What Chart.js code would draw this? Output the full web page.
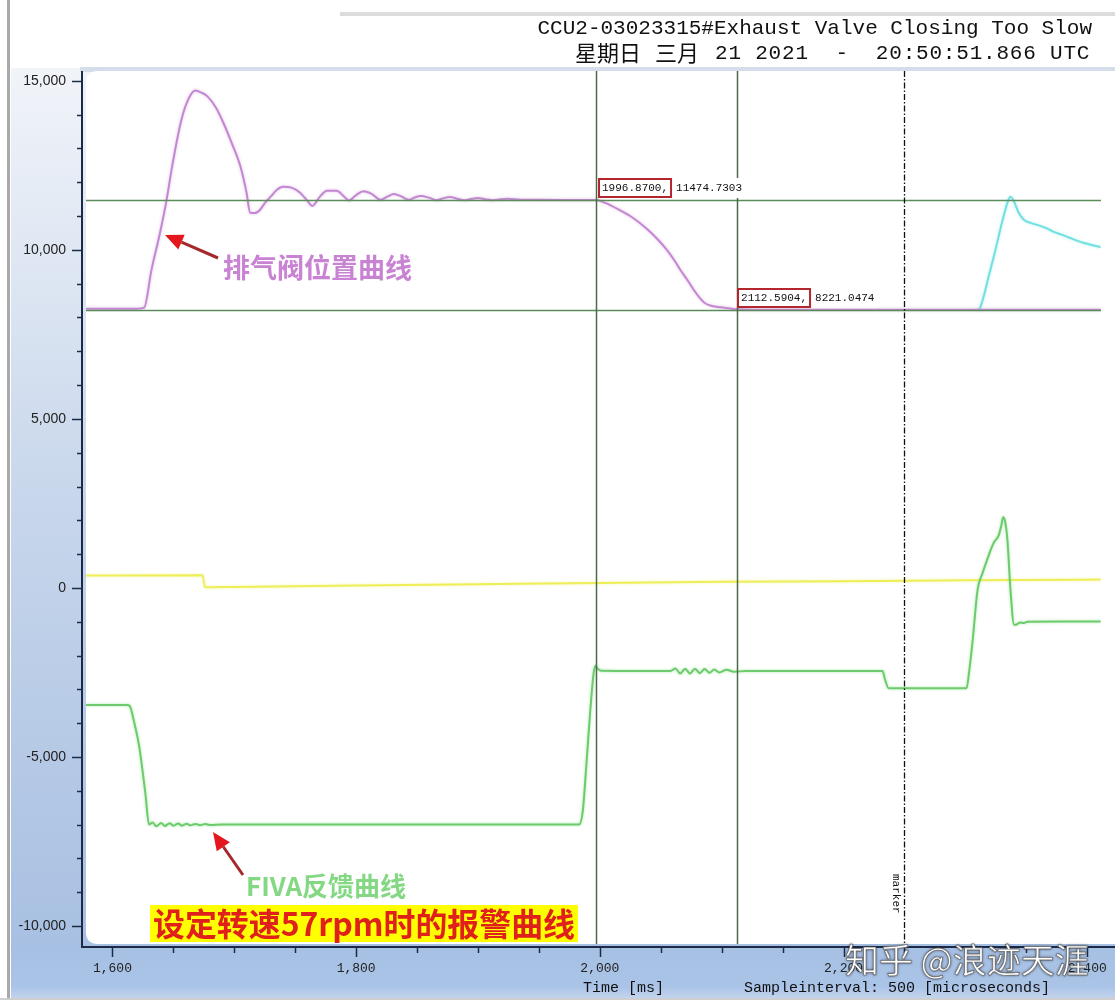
<!DOCTYPE html>
<html><head><meta charset="utf-8">
<script src="https://cdn.jsdelivr.net/npm/chart.js@4/dist/chart.umd.min.js"></script>
<style>html,body{margin:0;padding:0;background:#fff;}canvas{display:block;}</style>
</head><body>
<canvas id="c" width="1115" height="1004"></canvas>
<script>
// ---------- text ----------
const titleLine1 = "CCU2-03023315#Exhaust Valve Closing Too Slow";
const titleLine2Cjk = ["星期日", "三月"];
const titleLine2Rest = "21 2021  -  20:50:51.866 UTC";
const xTitleA = "Time [ms]";
const xTitleB = "Sampleinterval: 500 [microseconds]";
const valveLabel = "排气阀位置曲线";
const fivaLabel = "FIVA反馈曲线";
const alarmLabel = "设定转速57rpm时的报警曲线";
const watermark = "知乎 @浪迹天涯";
const markerLabel = "marker";

// ---------- cursors ----------
const cursorTimes = [1996.87, 2112.5904];
const cursorValues = [11474.7303, 8221.0474];
const cursorTimeText = ["1996.8700,", "2112.5904,"];
const cursorValueText = ["11474.7303", "8221.0474"];
const markerTime = 2250;

// ---------- axis ----------
const xMin = 1578.3, xMax = 2411.3;
const yMin = -10531, yMax = 15290;
const xTickValues = [1600, 1800, 2000, 2200, 2400];
const yTickValues = [-10000, -5000, 0, 5000, 10000, 15000];
const xMinorStep = 50, yMinorStep = 1000;

// ---------- series: exhaust valve position (purple) ----------
const valveT = [1578,1600,1620,1626,1632,1639,1644,1649,1656,1661,1668,1673,1678,1685,1691,1698,1705,1710,1713,1717,1721,1725,1730,1735,1740,1747,1754,1760,1764,1770,1776,1784,1790,1794,1800,1806,1813,1820,1826,1831,1837,1843,1848,1853,1860,1866,1872,1877,1883,1889,1895,1900,1906,1912,1918,1924,1935,1950,1970,1997,2005,2016,2027,2038,2047,2055,2061,2066,2072,2077,2082,2086,2092,2099,2106,2113,2150,2200,2250,2300,2350,2411];
const valveV = [8260,8255,8260,8290,9400,10500,11390,12470,13760,14350,14710,14650,14540,14200,13760,13150,12470,11700,11100,11090,11180,11380,11580,11780,11870,11840,11690,11450,11300,11560,11750,11750,11580,11460,11620,11730,11650,11480,11580,11650,11580,11480,11550,11590,11540,11470,11530,11560,11510,11470,11510,11530,11500,11470,11495,11510,11485,11480,11478,11475,11380,11180,10950,10640,10330,10000,9700,9410,9100,8820,8580,8430,8340,8300,8270,8240,8225,8225,8225,8225,8230,8225];

// ---------- series: second valve trace (cyan) ----------
const cyanT = [2309,2311,2315,2319,2324,2330,2335,2337,2340,2344,2348,2354,2359,2366,2372,2379,2386,2395,2402,2411];
const cyanV = [8220,8230,8620,9200,9900,10800,11450,11570,11420,11080,10890,10790,10740,10650,10540,10450,10350,10230,10160,10080];

// ---------- series: yellow trace ----------
const yellowT = [1578,1674,1676,1700,1800,1900,2000,2100,2200,2300,2411];
const yellowV = [370,375,20,30,70,110,150,180,200,225,250];

// ---------- series: FIVA feedback (green) ----------
const fivaT = [1578,1612,1614,1618,1622,1627,1630,1633,1636,1640,1643,1647,1650,1654,1657,1661,1664,1668,1672,1676,1680,1690,1720,1760,1800,1850,1900,1950,1983,1986,1989,1992,1995,1996.5,1998,2001,2030,2058,2062,2066,2070,2074,2078,2082,2086,2090,2094,2098,2104,2110,2120,2160,2200,2232,2234,2237,2260,2280,2301,2303,2306,2310,2314,2319,2323,2327.5,2329.5,2331,2332.5,2334.5,2337,2340,2342,2345,2348,2351,2380,2411];
const fivaV = [-3460,-3460,-3480,-4000,-4700,-6070,-7000,-6940,-7050,-6950,-7040,-6960,-7030,-6970,-7030,-6975,-7020,-6980,-7015,-6985,-7010,-6995,-7000,-6995,-7000,-6995,-7000,-6995,-7000,-6600,-5200,-3700,-2500,-2300,-2380,-2450,-2455,-2455,-2380,-2530,-2390,-2530,-2390,-2520,-2400,-2510,-2410,-2500,-2420,-2480,-2455,-2460,-2455,-2455,-2700,-2970,-2965,-2970,-2968,-2500,-1540,-60,430,950,1320,1570,1850,2090,1980,1420,-60,-1090,-1080,-1020,-1040,-1000,-995,-995];

const pts = (t, v) => t.map((x, i) => ({x, y: v[i]}));

function arrow(ctx, x1, y1, x2, y2) {
  const ang = Math.atan2(y2 - y1, x2 - x1), hl = 18, hw = 8;
  const bx = x2 - hl * Math.cos(ang), by = y2 - hl * Math.sin(ang);
  ctx.strokeStyle = '#a5282c'; ctx.lineWidth = 3;
  ctx.beginPath(); ctx.moveTo(x1, y1); ctx.lineTo(bx, by); ctx.stroke();
  ctx.fillStyle = '#e3171d'; ctx.beginPath();
  ctx.moveTo(x2, y2);
  ctx.lineTo(bx + hw * Math.sin(ang), by - hw * Math.cos(ang));
  ctx.lineTo(bx - hw * Math.sin(ang), by + hw * Math.cos(ang));
  ctx.closePath(); ctx.fill();
}

const deco = {
  id: 'deco',
  beforeDraw(chart) {
    const ctx = chart.ctx, a = chart.chartArea, W = chart.width;
    ctx.save();
    ctx.fillStyle = '#fff'; ctx.fillRect(0, 0, W, chart.height);
    ctx.fillStyle = '#dcdcdc'; ctx.fillRect(340, 12, W - 340, 4);
    ctx.fillStyle = '#a9a9a9'; ctx.fillRect(7, 0, 3, 1000);
    const g = ctx.createLinearGradient(0, 68, 0, 944);
    g.addColorStop(0, '#f1f4f9'); g.addColorStop(0.5, '#c7d6eb'); g.addColorStop(1, '#a8c0e2');
    ctx.fillStyle = g; ctx.fillRect(11, 68, 90, 885);
    ctx.fillStyle = '#d4dde9'; ctx.fillRect(80, 67, W - 80, 5);
    const g2 = ctx.createLinearGradient(0, 944, 0, 998);
    g2.addColorStop(0, '#a6c0e4'); g2.addColorStop(0.8, '#aac4e8'); g2.addColorStop(1, '#c3d4ec');
    ctx.fillStyle = g2; ctx.fillRect(11, 944, W - 11, 54);
    ctx.fillStyle = '#cfcfcf'; ctx.fillRect(0, 998, W, 2);
    const r = 12, L = a.left, T = a.top, R = W, B = a.bottom;
    ctx.fillStyle = '#fff';
    ctx.beginPath();
    ctx.moveTo(L + r, T); ctx.lineTo(R, T); ctx.lineTo(R, B); ctx.lineTo(L + r, B);
    ctx.quadraticCurveTo(L, B, L, B - r); ctx.lineTo(L, T + r); ctx.quadraticCurveTo(L, T, L + r, T);
    ctx.closePath(); ctx.fill();
    ctx.restore();
  },
  beforeDatasetDraw(chart, args) {
    const ctx = chart.ctx; ctx.save();
    const ds = chart.data.datasets[args.index];
    ctx.shadowColor = ds.glow || 'rgba(0,0,0,0)'; ctx.shadowBlur = 3;
  },
  afterDatasetDraw(chart) { chart.ctx.restore(); },
  afterDatasetsDraw(chart) {
    const ctx = chart.ctx, a = chart.chartArea, xs = chart.scales.x, ys = chart.scales.y, W = chart.width;
    ctx.save();
    ctx.strokeStyle = '#5b8d5b'; ctx.lineWidth = 1.5;
    cursorValues.forEach(v => { const y = Math.round(ys.getPixelForValue(v)) + 0.5; ctx.beginPath(); ctx.moveTo(a.left, y); ctx.lineTo(a.right, y); ctx.stroke(); });
    ctx.strokeStyle = '#4a6a4a';
    cursorTimes.forEach(t => { const x = Math.round(xs.getPixelForValue(t)) + 0.5; ctx.beginPath(); ctx.moveTo(x, a.top); ctx.lineTo(x, a.bottom); ctx.stroke(); });
    const mx = Math.round(xs.getPixelForValue(markerTime)) + 0.5;
    ctx.strokeStyle = '#111'; ctx.lineWidth = 1.3; ctx.setLineDash([6, 2, 1.5, 2]);
    ctx.beginPath(); ctx.moveTo(mx, a.top); ctx.lineTo(mx, a.bottom); ctx.stroke();
    ctx.setLineDash([]);
    ctx.save(); ctx.translate(mx - 9, 874); ctx.rotate(Math.PI / 2);
    ctx.font = '11px "Liberation Mono"'; ctx.fillStyle = '#111'; ctx.textBaseline = 'middle'; ctx.textAlign = 'left';
    ctx.fillText(markerLabel, 0, 0); ctx.restore();
    ctx.font = '11px "Liberation Mono"'; ctx.textBaseline = 'middle'; ctx.textAlign = 'left';
    cursorTimes.forEach((t, i) => {
      const x = xs.getPixelForValue(t), y = ys.getPixelForValue(cursorValues[i]) - 12;
      const w1 = ctx.measureText(cursorTimeText[i]).width, w2 = ctx.measureText(cursorValueText[i]).width;
      const bx = x + (i === 0 ? 3 : 1);
      ctx.fillStyle = '#fff'; ctx.fillRect(bx, y - 10, w1 + w2 + 14, 20);
      ctx.strokeStyle = '#b3262e'; ctx.lineWidth = 2; ctx.strokeRect(bx, y - 9, w1 + 6, 18);
      ctx.fillStyle = '#111'; ctx.fillText(cursorTimeText[i], bx + 3, y);
      ctx.fillText(cursorValueText[i], bx + w1 + 11, y);
    });
    ctx.strokeStyle = '#1c2a48'; ctx.lineWidth = 2;
    ctx.beginPath(); ctx.moveTo(82, a.top); ctx.lineTo(82, a.bottom + 4); ctx.stroke();
    ctx.beginPath(); ctx.moveTo(82, a.bottom + 3); ctx.lineTo(W, a.bottom + 3); ctx.stroke();
    ctx.lineWidth = 1.5;
    for (let v = -10000; v <= 15000; v += yMinorStep) {
      const y = Math.round(ys.getPixelForValue(v)) + 0.5;
      const len = yTickValues.includes(v) ? 10 : 5;
      ctx.beginPath(); ctx.moveTo(82 - len, y); ctx.lineTo(82, y); ctx.stroke();
    }
    for (let t = 1600; t <= 2400; t += xMinorStep) {
      const x = Math.round(xs.getPixelForValue(t)) + 0.5;
      const len = xTickValues.includes(t) ? 10 : 6;
      ctx.beginPath(); ctx.moveTo(x, a.bottom + 3); ctx.lineTo(x, a.bottom + 3 + len); ctx.stroke();
    }
    ctx.fillStyle = '#111'; ctx.font = '15px "Liberation Mono"'; ctx.textBaseline = 'middle';
    ctx.textAlign = 'left'; ctx.fillText(xTitleA, 583, 988);
    ctx.textAlign = 'right'; ctx.fillText(xTitleB, 1050, 988);
    ctx.font = '21px "Liberation Mono"'; ctx.textAlign = 'right'; ctx.fillStyle = '#111';
    ctx.fillText(titleLine1, 1092, 28);
    ctx.letterSpacing = '0.8px';
    ctx.textAlign = 'left';
    ctx.fillText(titleLine2Rest, 715, 53);
    ctx.letterSpacing = '0px';
    ctx.font = '22px "Noto Sans CJK SC"';
    ctx.fillText(titleLine2Cjk[0], 575, 53);
    ctx.fillText(titleLine2Cjk[1], 655, 53);
    arrow(ctx, 218, 258, 165, 235);
    arrow(ctx, 243, 875, 213, 832);
    ctx.textAlign = 'left'; ctx.textBaseline = 'middle';
    ctx.font = 'bold 27px "Noto Sans CJK SC"'; ctx.fillStyle = '#c983d3';
    ctx.fillText(valveLabel, 223, 268, 197);
    ctx.font = 'bold 26px "Noto Sans CJK SC"'; ctx.fillStyle = '#84d884';
    ctx.fillText(fivaLabel, 246, 886, 170);
    ctx.fillStyle = '#ffff00'; ctx.fillRect(150, 905, 428, 37);
    ctx.font = 'bold 32px "Noto Sans CJK SC"'; ctx.fillStyle = '#e0201a';
    ctx.fillText(alarmLabel, 153, 924, 422);
    ctx.font = '34px "Noto Sans CJK SC"'; ctx.textAlign = 'left';
    ctx.shadowColor = 'rgba(0,0,0,0.7)'; ctx.shadowBlur = 3;
    ctx.fillStyle = '#ffffff'; ctx.fillText(watermark, 845, 960);
    ctx.shadowBlur = 0; ctx.lineWidth = 0.8; ctx.strokeStyle = 'rgba(90,90,90,0.8)';
    ctx.strokeText(watermark, 845, 960);
    ctx.restore();
  }
};

new Chart(document.getElementById('c'), {
  type: 'line',
  data: {
    datasets: [
      {label: 'FIVA', data: pts(fivaT, fivaV), borderColor: '#6dcb6d', borderWidth: 2, glow: 'rgba(120,220,120,0.6)'},
      {label: 'Yellow', data: pts(yellowT, yellowV), borderColor: '#eeee58', borderWidth: 2, glow: 'rgba(240,240,120,0.6)'},
      {label: 'Valve', data: pts(valveT, valveV), borderColor: '#c488d2', borderWidth: 2, glow: 'rgba(200,140,210,0.5)'},
      {label: 'Cyan', data: pts(cyanT, cyanV), borderColor: '#72e0e0', borderWidth: 2, glow: 'rgba(120,225,225,0.5)'}
    ]
  },
  options: {
    responsive: false, animation: false, devicePixelRatio: 1,
    elements: {point: {radius: 0}, line: {tension: 0.25, cubicInterpolationMode: 'monotone'}},
    layout: {autoPadding: false, padding: {top: 71, right: 14, left: 0, bottom: 0}},
    plugins: {legend: {display: false}, tooltip: {enabled: false}},
    scales: {
      x: {
        type: 'linear', min: xMin, max: xMax,
        afterFit(s) { s.height = 60; s.paddingLeft = 0; s.paddingRight = 0; },
        afterBuildTicks(s) { s.ticks = xTickValues.map(v => ({value: v})); },
        grid: {display: false, drawTicks: false}, border: {display: false},
        ticks: {padding: 17, maxRotation: 0, minRotation: 0, autoSkip: false,
          color: '#222', font: {family: '"Liberation Mono"', size: 13},
          callback: v => v.toLocaleString('en-US')}
      },
      y: {
        min: yMin, max: yMax,
        afterFit(s) { s.width = 86; s.paddingTop = 0; s.paddingBottom = 0; },
        afterBuildTicks(s) { s.ticks = yTickValues.map(v => ({value: v})); },
        grid: {display: false, drawTicks: false}, border: {display: false},
        ticks: {padding: 20, autoSkip: false,
          color: '#222', font: {family: '"Liberation Sans"', size: 14},
          callback: v => v.toLocaleString('en-US')}
      }
    }
  },
  plugins: [deco]
});
</script>
</body></html>
